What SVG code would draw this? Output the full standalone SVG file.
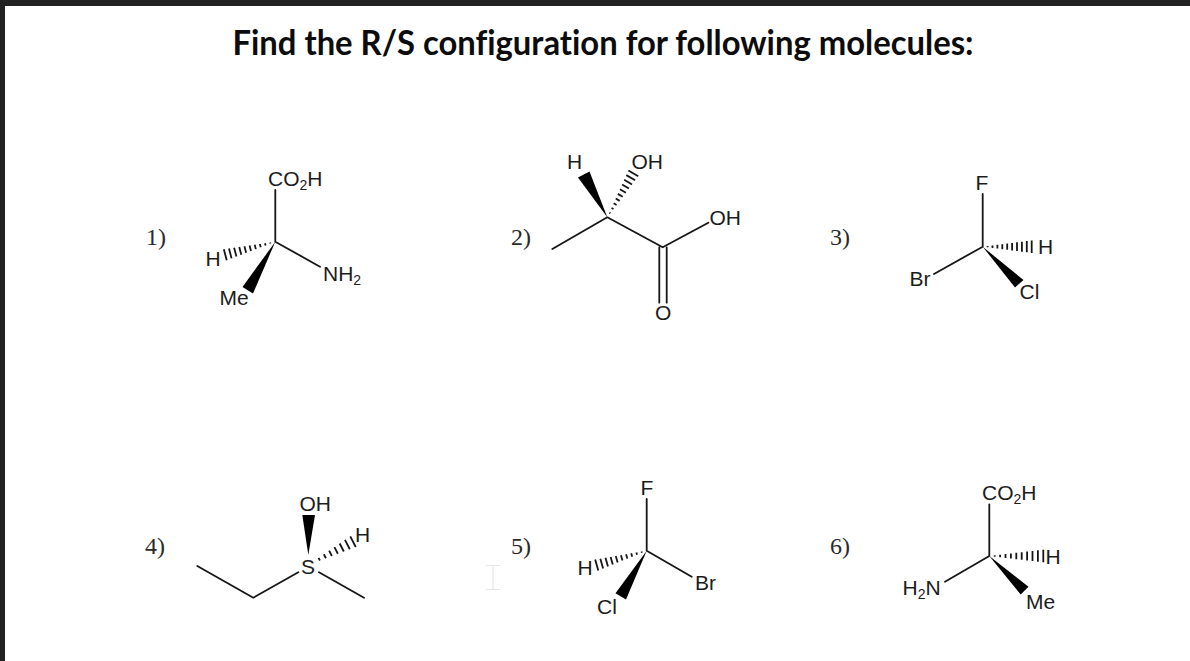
<svg xmlns="http://www.w3.org/2000/svg" width="1190" height="661" viewBox="0 0 1190 661">
<style>
.a{font-family:"Liberation Sans",Arial,sans-serif;font-size:21px;fill:#1c1c1c}
.s{font-size:14px}
.n{font-family:"Liberation Serif","Times New Roman",serif;font-size:24px;fill:#2a2a2a}
.b{fill:none;stroke:#161616;stroke-width:1.8;stroke-linecap:round;stroke-linejoin:round}
.w{fill:#000;stroke:none}
.h{fill:none;stroke:#161616;stroke-width:1.8;vector-effect:non-scaling-stroke}
</style>
<defs>
<path id="hash" class="h" d="M10-.6V.6M20-1.2V1.2M30-1.8V1.8M40-2.4V2.4M50-3V3M60-3.6V3.6M70-4.2V4.2M80-4.8V4.8M90-5.4V5.4M100-6V6"/>
<path id="hashS" class="h" d="M25-1.5V1.5M37.5-2.25V2.25M50-3V3M62.5-3.75V3.75M75-4.5V4.5M87.5-5.25V5.25M100-6V6"/>
</defs>
<rect width="1190" height="661" fill="#fff"/>
<path d="M0 0H1190V6H5V661H0Z" fill="#222"/>
<text id="title" x="232.5" y="55" font-family="Lato,'Open Sans',sans-serif" font-weight="700" font-size="34" fill="#0c0c0c" style="font-variant-ligatures:none" textLength="741" lengthAdjust="spacingAndGlyphs">Find the R/S configuration for following molecules:</text>
<g id="connectors">
<path class="b" d="M275.3 241.7V190M275.3 241.7L320 266.7"/>
<polygon class="w" points="275.3,241.7 242.5,287 253,293.5"/>
<use href="#hash" transform="translate(275.3 241.7) rotate(165.4) scale(.517 .95)"/>
<path class="b" d="M552.3 249L607.3 217.3L662.7 247.3L708.3 222.7M659.3 247.3V302.7M666.7 247.3V302.7"/>
<polygon class="w" points="607.3,217.3 578,177.5 589.5,171.5"/>
<use href="#hash" transform="translate(607.3 217.3) rotate(-59.4) scale(.511 .95)"/>
<path class="b" d="M982.7 246.7V194M982.7 246.7L934 274"/>
<polygon class="w" points="982.7,246.7 1023.5,280 1015,287.5"/>
<use href="#hash" transform="translate(982.7 246.7) scale(.49 1.05)"/>
<path class="b" d="M197.3 566L253.3 597.7L298.3 572.3M319 572.3L364 597.7"/>
<polygon class="w" points="308.3,555 302.3,515 315,515"/>
<use href="#hashS" transform="translate(308 565) rotate(-27.4) scale(.507 1)"/>
<path class="b" d="M646.7 550.7V499M646.7 550.7L691.7 576.7"/>
<polygon class="w" points="646.7,550.7 615.5,593.3 626,599.5"/>
<use href="#hash" transform="translate(646.7 550.7) rotate(164) scale(.52 .95)"/>
<path class="b" d="M989.3 556V504.3M989.3 556L945 581.7"/>
<polygon class="w" points="989.3,556 1028.5,586.7 1020.7,594.5"/>
<use href="#hash" transform="translate(989.3 556) scale(.54 1.05)"/>
</g>
<g id="mol1"><text class="n" x="146" y="245">1)</text>
<text class="a" x="268" y="186">CO<tspan class="s" dy="4">2</tspan><tspan dy="-4">H</tspan></text>
<text class="a" x="323" y="281">NH<tspan class="s" dy="4">2</tspan></text>
<text class="a" x="219.5" y="305">Me</text><text class="a" x="205.5" y="266">H</text></g>
<g id="mol2"><text class="n" x="511" y="245">2)</text>
<text class="a" x="567" y="169">H</text><text class="a" x="631.5" y="169">OH</text>
<text class="a" x="709.5" y="225">OH</text><text class="a" x="655" y="320">O</text></g>
<g id="mol3"><text class="n" x="830" y="245">3)</text>
<text class="a" x="975.5" y="190">F</text><text class="a" x="909.5" y="286">Br</text>
<text class="a" x="1019.5" y="299">Cl</text><text class="a" x="1038" y="254">H</text></g>
<g id="mol4"><text class="n" x="145" y="554">4)</text>
<text class="a" x="299.5" y="511">OH</text><text class="a" x="355" y="542">H</text>
<text class="a" x="301" y="574">S</text></g>
<g id="mol5"><text class="n" x="511" y="554">5)</text>
<text class="a" x="640.5" y="495">F</text><text class="a" x="695" y="590">Br</text>
<text class="a" x="597" y="613.5">Cl</text><text class="a" x="577.5" y="575">H</text></g>
<g id="mol6"><text class="n" x="830" y="554">6)</text>
<text class="a" x="982" y="500">CO<tspan class="s" dy="4">2</tspan><tspan dy="-4">H</tspan></text>
<text class="a" x="902.5" y="595">H<tspan class="s" dy="4">2</tspan><tspan dy="-4">N</tspan></text>
<text class="a" x="1026" y="608.5">Me</text><text class="a" x="1045.5" y="563.5">H</text></g>
<path id="cursor" d="M486 565.5H500M486 589.5H500M493 565.5V589.5" fill="none" stroke="#e6e6e6" stroke-width="1.2"/>
</svg>
